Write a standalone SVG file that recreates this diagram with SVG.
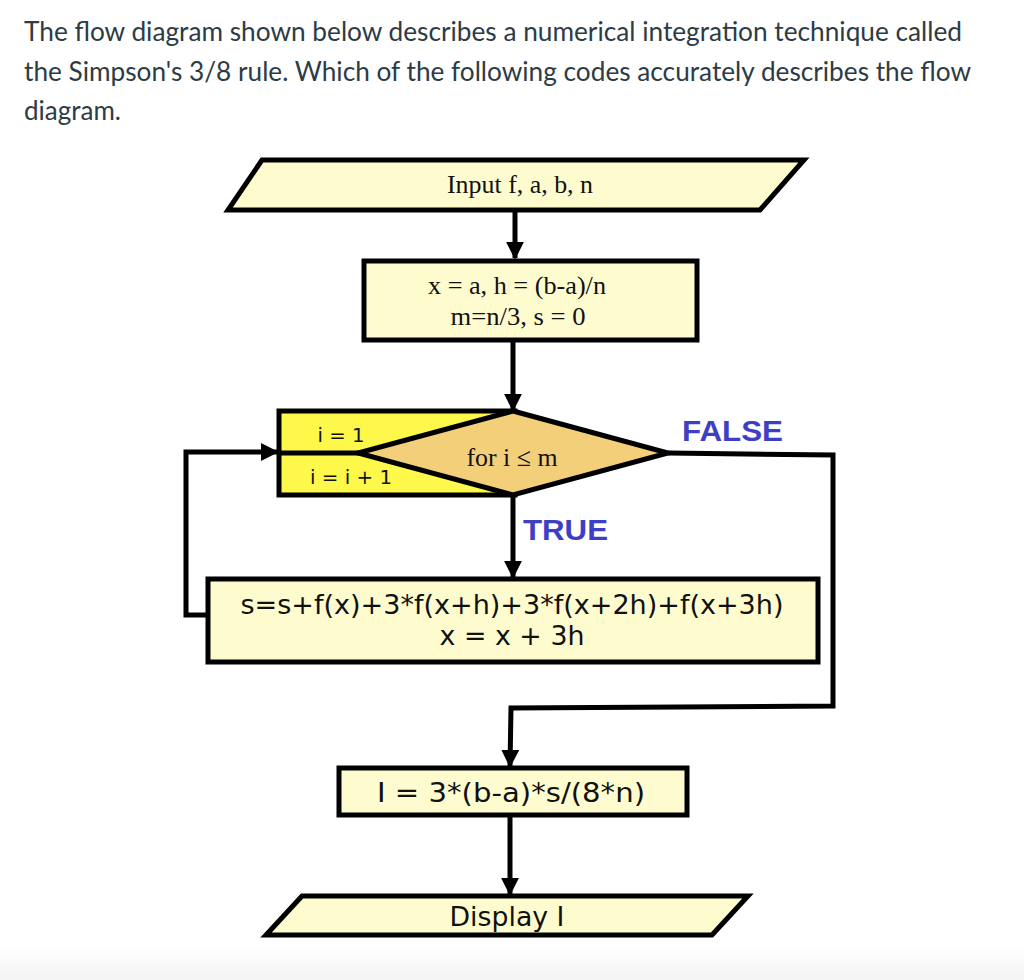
<svg xmlns="http://www.w3.org/2000/svg" width="1024" height="980" viewBox="0 0 1024 980">
  <style>
    .hdr { font-family: Lato, "Open Sans", sans-serif; font-size: 26px; fill: #2d3b45; }
    .shape { stroke: #000; stroke-width: 5; stroke-linejoin: miter; }
    .pale { fill: #fefcce; }
    .ser { font-family: "Liberation Serif", "Times New Roman", serif; font-size: 26px; fill: #111; text-anchor: middle; }
    .san { font-family: "DejaVu Sans", Verdana, sans-serif; font-size: 26px; fill: #111; text-anchor: middle; }
    .small { font-family: "DejaVu Sans", Verdana, sans-serif; font-size: 19px; fill: #111; text-anchor: middle; }
    .lbl { font-family: "Liberation Sans", Arial, sans-serif; font-weight: bold; font-size: 30px; fill: #3f3fc6; }
    .wire { fill: none; stroke: #000; stroke-width: 5; stroke-linejoin: miter; }
  </style>
  <defs>
    <marker id="arr" viewBox="0 0 10 10" refX="9" refY="5" markerWidth="3.6" markerHeight="3.6" orient="auto" markerUnits="strokeWidth">
      <path d="M0,0 L10,5 L0,10 z" fill="#000"/>
    </marker>
    <linearGradient id="bot" x1="0" y1="0" x2="0" y2="1">
      <stop offset="0" stop-color="#ffffff"/>
      <stop offset="1" stop-color="#f3f3f3"/>
    </linearGradient>
  </defs>
  <rect x="0" y="0" width="1024" height="980" fill="#fff"/>
  <rect x="0" y="945" width="1024" height="35" fill="url(#bot)"/>

  <g id="header">
    <text class="hdr" x="24" y="41" textLength="938" lengthAdjust="spacingAndGlyphs">The flow diagram shown below describes a numerical integration technique called</text>
    <text class="hdr" x="24" y="81" textLength="947" lengthAdjust="spacingAndGlyphs">the Simpson's 3/8 rule. Which of the following codes accurately describes the flow</text>
    <text class="hdr" x="24" y="120">diagram.</text>
  </g>

  <g id="connectors">
    <line class="wire" x1="515" y1="212" x2="515" y2="258" marker-end="url(#arr)"/>
    <line class="wire" x1="513" y1="342" x2="513" y2="410" marker-end="url(#arr)"/>
    <line class="wire" x1="513" y1="496" x2="513" y2="577" marker-end="url(#arr)"/>
    <polyline class="wire" points="668,453 833,455 833,706 511,708 510,766" marker-end="url(#arr)"/>
    <polyline class="wire" points="207,615 186,615 186,452 277,452" marker-end="url(#arr)"/>
    <line class="wire" x1="510" y1="817" x2="510" y2="894" marker-end="url(#arr)"/>
  </g>

  <g id="input">
    <polygon class="shape pale" points="262,160 804,160 760,210 228,210"/>
    <text class="ser" x="520" y="193" textLength="146" lengthAdjust="spacingAndGlyphs">Input f, a, b, n</text>
  </g>

  <g id="init">
    <rect class="shape pale" x="364" y="261" width="333" height="79"/>
    <text class="ser" x="517" y="294" textLength="178" lengthAdjust="spacingAndGlyphs">x = a, h = (b-a)/n</text>
    <text class="ser" x="518" y="325" textLength="135" lengthAdjust="spacingAndGlyphs">m=n/3, s = 0</text>
  </g>

  <g id="loop">
    <rect class="shape" x="279" y="411" width="236" height="84" fill="#fdf84a"/>
    <line class="shape" x1="279" y1="453" x2="362" y2="453"/>
    <text class="small" x="341" y="442" textLength="47" lengthAdjust="spacingAndGlyphs">i = 1</text>
    <text class="small" x="351" y="484" textLength="82" lengthAdjust="spacingAndGlyphs">i = i + 1</text>
    <polygon class="shape" points="513,411 668,453 513,495 358,453" fill="#f4cf7a"/>
    <text class="ser" x="512" y="466" textLength="91" lengthAdjust="spacingAndGlyphs">for i ≤ m</text>
  </g>

  <g id="labels">
    <text class="lbl" x="682" y="441" textLength="101" lengthAdjust="spacingAndGlyphs">FALSE</text>
    <text class="lbl" x="523" y="540" textLength="85" lengthAdjust="spacingAndGlyphs">TRUE</text>
  </g>

  <g id="body">
    <rect class="shape pale" x="208" y="579" width="610" height="83"/>
    <text class="san" x="512" y="614" textLength="543" lengthAdjust="spacingAndGlyphs">s=s+f(x)+3*f(x+h)+3*f(x+2h)+f(x+3h)</text>
    <text class="san" x="512" y="645" textLength="145" lengthAdjust="spacingAndGlyphs">x = x + 3h</text>
  </g>

  <g id="result">
    <rect class="shape pale" x="339" y="768" width="348" height="47"/>
    <text class="san" x="511" y="802" textLength="268" lengthAdjust="spacingAndGlyphs">I = 3*(b-a)*s/(8*n)</text>
  </g>

  <g id="display">
    <polygon class="shape pale" points="302,896 748,896 712,935 266,935"/>
    <text class="san" x="507" y="926" textLength="115" lengthAdjust="spacingAndGlyphs">Display I</text>
  </g>
</svg>
